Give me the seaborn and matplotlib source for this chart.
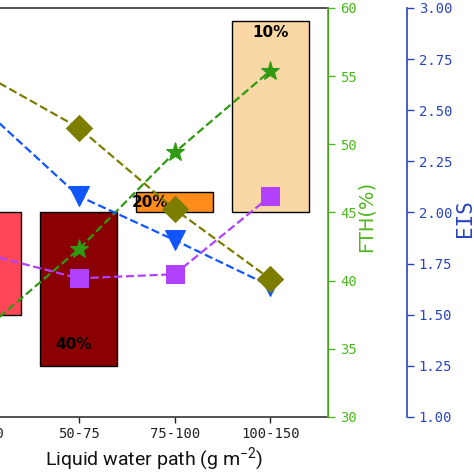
import numpy as np
import pandas as pd
import seaborn as sns
import matplotlib.pyplot as plt

# liquid water path bins (the leftmost bin is mostly cropped off in the reference)
lwp_bins = ["25-50", "50-75", "75-100", "100-150"]

# floating bars (drawn from the zero line of the main axis) and their labels
bar_vals = [-0.50, -0.75, 0.10, 0.935]
bar_colors = ["#ff4656", "#8b0000", "#ff8c1a", "#f9d8a6"]
bar_text = ["", "40%", "20%", "10%"]

# lines
fth = [36.3, 42.3, 49.4, 55.4]          # FTH (%)
eis = [2.51, 2.08, 1.865, 1.64]         # EIS
olive_vals = [0.839, 0.707, 0.508, 0.337]
purple_vals = [0.400, 0.339, 0.349, 0.540]

sns.set_style("ticks")
plt.rcParams["font.family"] = ["DejaVu Sans"]
plt.rcParams["mathtext.fontset"] = "custom"
plt.rcParams["mathtext.rm"] = "Roboto"
plt.rcParams["mathtext.it"] = "Roboto"

green_ax = "#4cb81c"
blue_ax = "#2a45c0"

fig = plt.figure(figsize=(4.74, 4.74), dpi=100)
ax = fig.add_axes([-0.1574, 0.1203, 0.8494, 0.8629])

df = pd.DataFrame({"lwp": lwp_bins, "val": bar_vals})
sns.barplot(data=df, x="lwp", y="val", hue="lwp", palette=bar_colors, saturation=1,
            legend=False, width=0.8, edgecolor="black", linewidth=1, ax=ax)
ax.set_ylim(-1, 1)
ax.set_xlim(-0.6, len(lwp_bins) - 0.4)
ax.set_yticks([])
ax.set_ylabel("")

xpos = np.arange(len(lwp_bins))
ax.set_xticks(xpos)
ax.set_xticklabels(lwp_bins, family="DejaVu Sans Mono", fontsize=10)
ax.tick_params(axis="x", length=4, width=1, colors="#222222")
ax.set_xlabel("Liquid water path (g m$^{-2}$)", fontsize=14, family=["Roboto", "DejaVu Sans"],
              color="#111111")
ax.xaxis.set_label_coords(0.568, -0.071)
for sp in ["top", "bottom"]:
    ax.spines[sp].set_color("#333333")
    ax.spines[sp].set_linewidth(1.2)

# percentage labels on the bars
ax.text(3, 0.88, bar_text[3], ha="center", va="center", fontsize=11, fontweight="bold", color="black")
ax.text(1.74, 0.05, bar_text[2], ha="center", va="center", fontsize=11, fontweight="bold", color="black")
ax.text(0.95, -0.648, bar_text[1], ha="center", va="center", fontsize=11, fontweight="bold", color="black")

# FTH axis
ax2 = ax.twinx()
sns.lineplot(x=xpos, y=fth, ax=ax2, color="#2f9a12", linestyle="--", linewidth=1.6,
             marker="*", markersize=14, markeredgecolor="#2f9a12")
ax2.set_ylim(30, 60)
ax2.set_yticks(np.arange(30, 61, 5))
ax2.set_yticklabels([str(v) for v in range(30, 61, 5)], family="DejaVu Sans Mono", fontsize=10)
ax2.tick_params(axis="y", colors=green_ax, length=5, width=1)
ax2.spines["right"].set_color(green_ax)
ax2.spines["right"].set_linewidth(1.2)
for sp in ["top", "bottom", "left"]:
    ax2.spines[sp].set_visible(False)
ax2.set_ylabel("FTH(%)", color=green_ax, fontsize=14)
ax2.yaxis.set_label_coords(1.072, 0.49)

# EIS axis, offset to the right
ax3 = ax.twinx()
sns.lineplot(x=xpos, y=eis, ax=ax3, color="#1155ff", linestyle="--", linewidth=1.6,
             marker="v", markersize=14, markeredgecolor="#1155ff")
ax3.set_ylim(1, 3)
ax3.spines["right"].set_position(("axes", 1.196))
eis_ticks = np.arange(1, 3.01, 0.25)
ax3.set_yticks(eis_ticks)
ax3.set_yticklabels([f"{v:.2f}" for v in eis_ticks], family="DejaVu Sans Mono", fontsize=10)
ax3.tick_params(axis="y", colors=blue_ax, length=5, width=1)
ax3.spines["right"].set_color(blue_ax)
ax3.spines["right"].set_linewidth(1.2)
for sp in ["top", "bottom", "left"]:
    ax3.spines[sp].set_visible(False)
ax3.set_ylabel("EIS", color=blue_ax, fontsize=15, family="DejaVu Sans Mono")
ax3.yaxis.set_label_coords(1.315, 0.487)

# other two variables (their axes are cropped off in the reference)
ax4 = ax.twinx()
sns.lineplot(x=xpos, y=purple_vals, ax=ax4, color="#b140ff", linestyle="--", linewidth=1.6,
             marker="s", markersize=13, markeredgecolor="#b140ff")
sns.lineplot(x=xpos, y=olive_vals, ax=ax4, color="#7d7d00", linestyle="--", linewidth=1.6,
             marker="D", markersize=13, markeredgecolor="#7d7d00")
ax4.set_ylim(0, 1)
ax4.axis("off")

ax.set_xlim(-0.6, len(lwp_bins) - 0.4)
fig.savefig("out.png", dpi=100)
